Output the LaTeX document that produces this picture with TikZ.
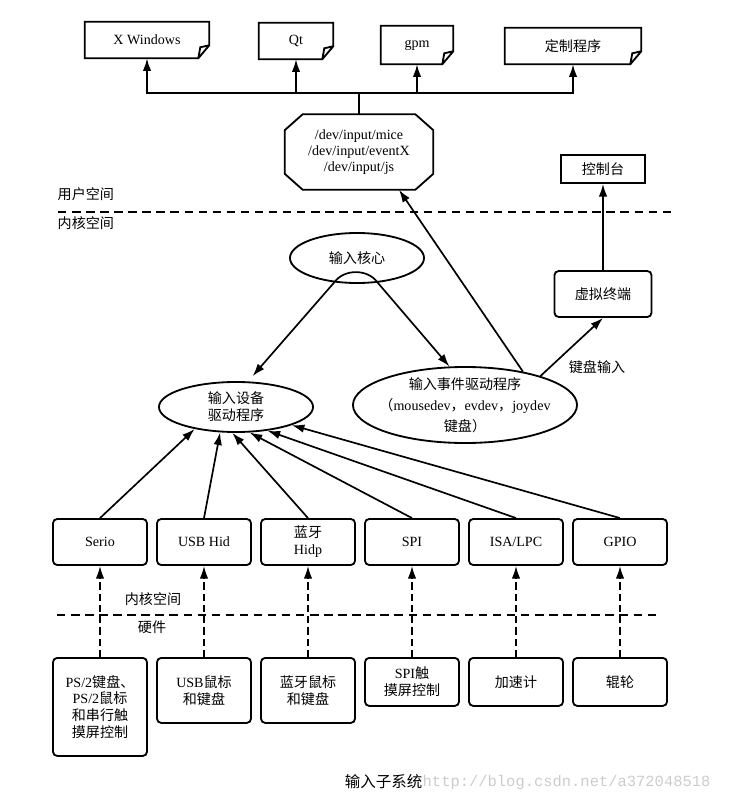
\documentclass[tikz,border=0pt]{standalone}
\usepackage{fontspec}
\setmainfont{Liberation Serif}
\newfontfamily\cjk{Noto Sans CJK SC}
\newfontfamily\wmfont{Liberation Mono}
\usepackage{tikz}
\usetikzlibrary{shapes.geometric,arrows.meta}
\newcommand{\zh}[1]{{\cjk #1}}

\begin{document}
\begin{tikzpicture}[x=0.025cm,y=-0.025cm,
    every node/.style={font=\fontsize{10}{12}\selectfont,align=center,inner sep=1pt},
    arr/.style={line width=1.2pt,-{Latex[length=9pt,width=6pt]}},
    dasharr/.style={arr,dash pattern=on 5pt off 3pt},
    sepline/.style={line width=1.1pt,dash pattern=on 6pt off 4pt},
    ell/.style={draw,ellipse,line width=1.3pt,inner sep=0pt},
    rbox/.style={draw,line width=1.3pt,rounded corners=3pt,minimum width=2.35cm,minimum height=1.15cm},
    lowbox/.style={rbox,anchor=north},
    docbox/.style={minimum height=0.9cm}]
         \useasboundingbox (0,0) rectangle (739,800);
         \node[docbox,minimum width=3.1cm] (xwin) at (147,40) {X Windows};
         \node[docbox,minimum width=1.85cm] (qt) at (296,41) {Qt};
         \node[docbox,minimum width=1.8cm,minimum height=0.95cm] (gpm) at (417,45) {gpm};
         \node[docbox,minimum width=3.4cm] (custom) at (573,46) {\zh{定制程序}};
         \foreach \n in {xwin,qt,gpm,custom} {\draw[line width=1.3pt] (\n.north west) -- (\n.north east) -- ([yshift=0.325cm]\n.south east) -- ([xshift=-0.275cm]\n.south east) -- (\n.south west) -- cycle ([xshift=-0.275cm]\n.south east) -- ([xshift=-0.225cm,yshift=0.275cm]\n.south east) -- ([yshift=0.325cm]\n.south east); }
         \node[minimum width=3.7cm,minimum height=1.875cm,font=\fontsize{10}{11.5}\selectfont] (dev) at (359,152) {/dev/input/mice\\/dev/input/eventX\\/dev/input/js};
         \draw[line width=1.3pt] ([xshift=0.45cm]dev.north west) -- ([xshift=-0.45cm]dev.north east) -- ([yshift=-0.4cm]dev.north east) -- ([yshift=0.4cm]dev.south east) -- ([xshift=-0.45cm]dev.south east) -- ([xshift=0.45cm]dev.south west) -- ([yshift=0.4cm]dev.south west) -- ([yshift=-0.4cm]dev.north west) -- cycle;
         \coordinate (bus) at ([yshift=0.525cm]dev.north);
         \draw[line width=1.2pt] (dev.north) -- (bus);
         \foreach \n in {xwin,qt,gpm,custom} {\draw[arr] (bus) -| (\n.south); }
         \node[draw,line width=1.3pt,minimum width=2.1cm,minimum height=0.7cm] (console) at (603,169) {\zh{控制台}};
         \node[anchor=west] (user) at (56,194) {\zh{用户空间}};
         \node[anchor=west] (kernel) at (56,223) {\zh{内核空间}};
         \draw[sepline] (58,212) -- (672,212);
         \node[ell,minimum width=3.35cm,minimum height=1.25cm] (core) at (357,258) {\zh{输入核心}};
         \node[rbox,minimum width=2.425cm] (vterm) at (603,294) {\zh{虚拟终端}};
         \node[ell,minimum width=3.85cm,minimum height=1.25cm,label={center:\zh{输入设备}\\\zh{驱动程序}}] (drv) at (236,407) {};
         \node[ell,minimum width=5.6cm,minimum height=1.9cm,label={[font=\fontsize{10}{15}\selectfont]center:\zh{输入事件驱动程序}\\\zh{（}mousedev\zh{，}evdev\zh{，}joydev\\\zh{键盘）}}] (evt) at (465,405) {};
         \draw[line width=1.2pt] (core.227) to[bend left=55] (core.310);
         \draw[arr,shorten >=5pt] (core.227) -- (drv.65);
         \draw[arr] (core.310) -- (evt.112);
         \draw[arr] (evt.30) -- ([xshift=1cm]dev.south);
         \draw[arr] (evt.21) -- (vterm.south);
         \draw[arr] (vterm) -- (console);
         \node (kbd) at (597,367) {\zh{键盘输入}};
         \node[rbox] (serio) at (100,542) {Serio};
         \node[rbox] (usb) at (204,542) {USB Hid};
         \node[rbox] (bt) at (308,542) {\zh{蓝牙}\\Hidp};
         \node[rbox] (spi) at (412,542) {SPI};
         \node[rbox] (isa) at (516,542) {ISA/LPC};
         \node[rbox] (gpio) at (620,542) {GPIO};
         \foreach \n/\a in {serio/208,usb/238,bt/262,spi/298,isa/323,gpio/342} {\draw[arr] (\n.north) -- (drv.\a); }
         \node (kern2) at (153,599) {\zh{内核空间}};
         \node (hw) at (152,627) {\zh{硬件}};
         \draw[sepline] (57,615) -- (657,615);
         \node[lowbox,minimum height=2.45cm] (ps2) at (100,657) {PS/2\zh{键盘、}\\PS/2\zh{鼠标}\\\zh{和串行触}\\\zh{摸屏控制}};
         \node[lowbox,minimum height=1.625cm] (usbkb) at (204,657) {USB\zh{鼠标}\\\zh{和键盘}};
         \node[lowbox,minimum height=1.625cm] (btkb) at (308,657) {\zh{蓝牙鼠标}\\\zh{和键盘}};
         \node[lowbox,minimum height=1.2cm] (spits) at (412,657) {SPI\zh{触}\\\zh{摸屏控制}};
         \node[lowbox,minimum height=1.2cm] (accel) at (516,657) {\zh{加速计}};
         \node[lowbox,minimum height=1.2cm] (wheel) at (620,657) {\zh{辊轮}};
         \foreach \a/\b in {ps2/serio,usbkb/usb,btkb/bt,spits/spi,accel/isa,wheel/gpio} {\draw[dasharr] (\a) -- (\b); }
         \node[anchor=east,font=\fontsize{11}{13}\selectfont] (cap) at (424,782) {\zh{输入子系统}};
         \node[anchor=west,font=\wmfont\fontsize{11}{13}\selectfont,text=gray!40] (wm) at (421,782) {http://blog.csdn.net/a372048518};
      \end{tikzpicture}
\end{document}
